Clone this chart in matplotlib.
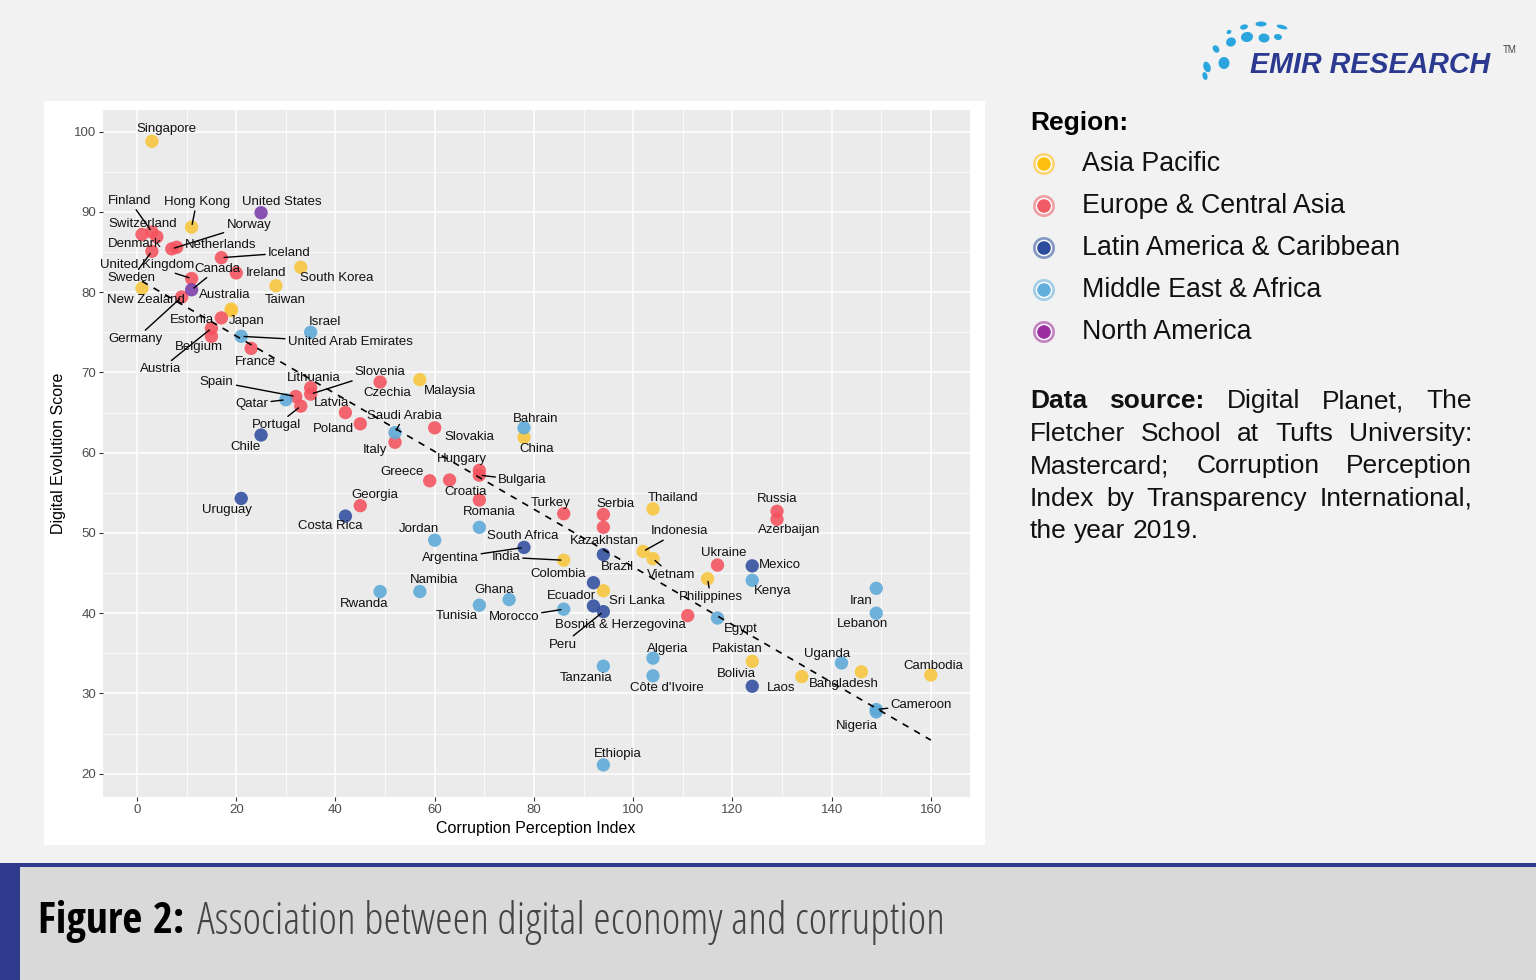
import matplotlib

matplotlib.use("Agg")
import matplotlib.pyplot as plt
from matplotlib.patches import Rectangle, Ellipse, Circle
import numpy as np

# ==========================================
# Data
# ==========================================
countries = [
    "Singapore", "Finland", "Switzerland", "Denmark", "Sweden", "Norway", "Netherlands",
    "Hong Kong", "United States", "Iceland", "Ireland", "United Kingdom", "Canada",
    "South Korea", "Taiwan", "New Zealand", "Germany", "Australia", "Japan", "Estonia",
    "Austria", "Belgium", "Israel", "United Arab Emirates", "France", "Lithuania",
    "Slovenia", "Spain", "Qatar", "Portugal", "Czechia", "Malaysia", "Latvia", "Poland",
    "Saudi Arabia", "Italy", "Slovakia", "Chile", "Bahrain", "China", "Hungary",
    "Bulgaria", "Greece", "Croatia", "Romania", "Georgia", "Costa Rica", "Uruguay",
    "Jordan", "South Africa", "Argentina", "India", "Turkey", "Serbia", "Kazakhstan",
    "Thailand", "Russia", "Azerbaijan", "Indonesia", "Vietnam", "Brazil", "Ukraine",
    "Mexico", "Kenya", "Philippines", "Colombia", "Sri Lanka", "Ecuador", "Peru",
    "Bosnia & Herzegovina", "Egypt", "Rwanda", "Namibia", "Tunisia", "Ghana", "Morocco",
    "Iran", "Lebanon", "Algeria", "Côte d'Ivoire", "Tanzania", "Pakistan", "Bolivia",
    "Laos", "Bangladesh", "Uganda", "Cambodia", "Cameroon", "Nigeria", "Ethiopia",
]
cpi_rank = [
    3, 3, 4, 1, 3, 7, 8,
    11, 25, 17, 20, 11, 11,
    33, 28, 1, 9, 19, 19, 17,
    15, 15, 35, 21, 23, 35,
    35, 32, 30, 33, 49, 57, 42, 45,
    52, 52, 60, 25, 78, 78, 69,
    69, 59, 63, 69, 45, 42, 21,
    60, 69, 78, 86, 86, 94, 94,
    104, 129, 129, 102, 104, 94, 117,
    124, 124, 115, 92, 94, 92, 94,
    111, 117, 49, 57, 69, 75, 86,
    149, 149, 104, 104, 94, 124, 124,
    134, 146, 142, 160, 149, 149, 94,
]
digital_score = [
    98.8, 87.5, 86.9, 87.2, 85.1, 85.4, 85.6,
    88.1, 89.9, 84.3, 82.4, 81.7, 80.3,
    83.1, 80.8, 80.5, 79.4, 77.9, 77.7, 76.8,
    75.5, 74.5, 75.0, 74.5, 73.0, 68.1,
    67.3, 67.0, 66.6, 65.8, 68.8, 69.1, 65.0, 63.6,
    62.5, 61.3, 63.1, 62.2, 63.1, 61.9, 57.8,
    57.2, 56.5, 56.6, 54.1, 53.4, 52.1, 54.3,
    49.1, 50.7, 48.2, 46.6, 52.4, 52.3, 50.7,
    53.0, 52.7, 51.7, 47.7, 46.8, 47.3, 46.0,
    45.9, 44.1, 44.3, 43.8, 42.8, 40.9, 40.2,
    39.7, 39.4, 42.7, 42.7, 41.0, 41.7, 40.5,
    43.1, 40.0, 34.4, 32.2, 33.4, 34.0, 30.9,
    32.1, 32.7, 33.8, 32.3, 28.0, 27.7, 21.1,
]
regions = [
    "AP", "EU", "EU", "EU", "EU", "EU", "EU",
    "AP", "NA", "EU", "EU", "EU", "NA",
    "AP", "AP", "AP", "EU", "AP", "AP", "EU",
    "EU", "EU", "ME", "ME", "EU", "EU",
    "EU", "EU", "ME", "EU", "EU", "AP", "EU", "EU",
    "ME", "EU", "EU", "LA", "ME", "AP", "EU",
    "EU", "EU", "EU", "EU", "EU", "LA", "LA",
    "ME", "ME", "LA", "AP", "EU", "EU", "EU",
    "AP", "EU", "EU", "AP", "AP", "LA", "EU",
    "LA", "ME", "AP", "LA", "AP", "LA", "LA",
    "EU", "ME", "ME", "ME", "ME", "ME", "ME",
    "ME", "ME", "ME", "ME", "ME", "AP", "LA",
    "AP", "AP", "ME", "AP", "ME", "ME", "ME",
]

region_keys = ["AP", "EU", "LA", "ME", "NA"]
region_names = ["Asia Pacific", "Europe & Central Asia", "Latin America & Caribbean",
                "Middle East & Africa", "North America"]

# ==========================================
# Styling
# ==========================================
POINT_COLORS = {"AP": "#F8C63C", "EU": "#F5525D", "LA": "#2F4E9E",
                "ME": "#5CA9D8", "NA": "#7A3CA8"}
LEGEND_COLORS = {"AP": "#FDC010", "EU": "#EF5B66", "LA": "#2C4C9E",
                 "ME": "#62AEDC", "NA": "#9A2E9E"}

# label offset from its point in pixels (right, up)
label_offsets = {
    "Singapore": (15, 12), "Finland": (-22, 31), "Switzerland": (-14, 13),
    "Denmark": (-7, -10), "Sweden": (-20, -27), "Norway": (77, 24),
    "Netherlands": (44, 2), "Hong Kong": (5, 25), "United States": (21, 11),
    "Iceland": (68, 5), "Ireland": (30, 0), "United Kingdom": (-44, 14),
    "Canada": (26, 21), "South Korea": (36, -11), "Taiwan": (9, -14),
    "New Zealand": (4, -12), "Germany": (-46, -42), "Australia": (-7, 14),
    "Japan": (15, -10), "Estonia": (-29, -2), "Austria": (-51, -41),
    "Belgium": (-13, -11), "Israel": (14, 10), "United Arab Emirates": (109, -6),
    "France": (4, -14), "Lithuania": (3, 10), "Slovenia": (69, 22),
    "Spain": (-79, 15), "Qatar": (-34, -4), "Portugal": (-24, -19),
    "Czechia": (7, -11), "Malaysia": (30, -11), "Latvia": (-14, 10),
    "Poland": (-27, -5), "Saudi Arabia": (9, 17), "Italy": (-20, -8),
    "Slovakia": (35, -9), "Chile": (-16, -12), "Bahrain": (12, 9),
    "China": (13, -12), "Hungary": (-17, 11), "Bulgaria": (43, -5),
    "Greece": (-28, 9), "Croatia": (16, -12), "Romania": (10, -12),
    "Georgia": (15, 11), "Costa Rica": (-15, -10), "Uruguay": (-14, -12),
    "Jordan": (-16, 11), "South Africa": (43, -9), "Argentina": (-74, -11),
    "India": (-58, 3), "Turkey": (-13, 11), "Serbia": (12, 10),
    "Kazakhstan": (1, -14), "Thailand": (20, 11), "Russia": (0, 12),
    "Azerbaijan": (12, -11), "Indonesia": (36, 20), "Vietnam": (18, -16),
    "Brazil": (14, -12), "Ukraine": (6, 12), "Mexico": (28, 1),
    "Kenya": (20, -11), "Philippines": (3, -18), "Colombia": (-35, 9),
    "Sri Lanka": (33, -10), "Ecuador": (-22, 10), "Peru": (-41, -33),
    "Bosnia & Herzegovina": (-67, -9), "Egypt": (23, -11), "Rwanda": (-16, -12),
    "Namibia": (14, 12), "Tunisia": (-23, -11), "Ghana": (-15, 10),
    "Morocco": (-50, -8), "Iran": (-15, -13), "Lebanon": (-14, -11),
    "Algeria": (15, 9), "Côte d'Ivoire": (14, -12), "Tanzania": (-17, -12),
    "Pakistan": (-15, 12), "Bolivia": (-16, 12), "Laos": (-21, -11),
    "Bangladesh": (-18, -12), "Uganda": (-14, 9), "Cambodia": (3, 9),
    "Cameroon": (45, 5), "Nigeria": (-19, -14), "Ethiopia": (14, 11),
}
with_leader = {
    "Finland", "Hong Kong", "Norway", "Iceland", "United Kingdom", "Canada", "Sweden",
    "Germany", "United Arab Emirates", "Austria", "Spain", "Slovenia", "Qatar",
    "Saudi Arabia", "Portugal", "Bulgaria", "Indonesia", "Argentina", "India",
    "Morocco", "Peru", "Cameroon", "Vietnam", "Philippines",
}

plt.rcParams["font.family"] = ["Liberation Sans", "DejaVu Sans"]

W, H = 1536, 980
fig = plt.figure(figsize=(W / 100, H / 100), dpi=100, facecolor="#F2F2F2")
renderer = fig.canvas.get_renderer()

# pixel-coordinate canvas for panels, legend and banner
deco = fig.add_axes([0, 0, 1, 1], zorder=0)
deco.set_xlim(0, W)
deco.set_ylim(H, 0)
deco.axis("off")
deco.add_patch(Rectangle((44, 101), 941, 744, facecolor="white", edgecolor="none"))

# ==================== Scatter panel ====================
ax = fig.add_axes([103 / W, 1 - 797 / H, 867 / W, 687 / H], zorder=1)
ax.set_facecolor("#EBEBEB")
ax.set_xlim(-6.86, 167.9)
ax.set_ylim(17.1, 102.7)
ax.set_xticks(np.arange(0, 161, 20))
ax.set_xticks(np.arange(10, 160, 20), minor=True)
ax.set_yticks(np.arange(20, 101, 10))
ax.set_yticks(np.arange(25, 100, 10), minor=True)
ax.grid(which="major", color="white", lw=1.1)
ax.grid(which="minor", color="white", lw=0.55)
ax.set_axisbelow(True)
for s in ax.spines.values():
    s.set_visible(False)
ax.tick_params(which="major", length=3, width=0.8, color="#333333",
               labelsize=9.5, labelcolor="#4D4D4D", pad=2)
ax.tick_params(which="minor", length=0)

x = np.array(cpi_rank, dtype=float)
y = np.array(digital_score, dtype=float)
reg = np.array(regions)

for key in region_keys:
    m = reg == key
    ax.scatter(x[m], y[m], s=92, color=POINT_COLORS[key], alpha=0.88,
               edgecolors="none", zorder=3)

# linear trend
coef = np.polyfit(x, y, 1)
xs = np.array([x.min(), x.max()])
ax.plot(xs, np.polyval(coef, xs), color="black", lw=1.2, ls=(0, (4, 4)), zorder=4)

for name, xi, yi in zip(countries, x, y):
    dx, dy = label_offsets[name]
    arrow = None
    if name in with_leader:
        arrow = dict(arrowstyle="-", color="black", lw=1.0, shrinkA=0, shrinkB=2)
    ax.annotate(name, xy=(xi, yi), xytext=(dx, dy), textcoords="offset pixels",
                ha="center", va="center", fontsize=9.5, color="#111111",
                arrowprops=arrow, zorder=5)

fig.text(536 / W, 1 - 828 / H, "Corruption Perception Index", ha="center",
         va="center", fontsize=11.5, color="black")
fig.text(58 / W, 1 - 453 / H, "Digital Evolution Score", ha="center",
         va="center", rotation=90, fontsize=11.5, color="black")

# ==================== Legend (right) ====================
deco.text(1030, 123, "Region:", fontsize=19, fontweight="bold", va="center", ha="left")
for i, (key, nm) in enumerate(zip(region_keys, region_names)):
    cy = 164 + i * 42
    c = LEGEND_COLORS[key]
    deco.add_patch(Circle((1044, cy), 11, facecolor=c, alpha=0.55, edgecolor="none"))
    deco.add_patch(Circle((1044, cy), 8.3, facecolor="white", edgecolor="none"))
    deco.add_patch(Circle((1044, cy), 6.8, facecolor=c, edgecolor="none"))
    deco.text(1082, cy, nm, fontsize=19.3, va="center", ha="left", color="#111111")

# justified data source paragraph
source_lines = [
    [("Data", "bold"), ("source:", "bold"), ("Digital", "normal"), ("Planet,", "normal"), ("The", "normal")],
    [(w, "normal") for w in "Fletcher School at Tufts University:".split()],
    [(w, "normal") for w in "Mastercard; Corruption Perception".split()],
    [(w, "normal") for w in "Index by Transparency International,".split()],
    [(w, "normal") for w in "the year 2019.".split()],
]
x0, x1 = 1030, 1472
for li, words in enumerate(source_lines):
    cy = 401 + li * 32.5
    texts = [deco.text(0, cy, w, fontsize=19, fontweight=wt, va="center", ha="left",
                       color="#111111") for w, wt in words]
    widths = [t.get_window_extent(renderer).width for t in texts]
    if li < len(source_lines) - 1:
        gap = (x1 - x0 - sum(widths)) / (len(words) - 1)
    else:
        gap = renderer.points_to_pixels(19) * 0.28
    pos = x0
    for t, wd in zip(texts, widths):
        t.set_x(pos)
        pos += wd + gap

# ==================== Logo ====================
logo_blue = "#2AA5DE"
for (cx, cy, w, h, ang) in [
    (1207, 67, 7, 11, -20), (1205, 76, 5, 8, -15), (1224, 63, 11, 12, 0),
    (1216, 49, 6, 8, -35), (1231, 42, 10, 9, -25), (1247, 37, 12, 10, -10),
    (1264, 38, 11, 9, 5), (1229, 32, 5, 4, -30), (1244, 27, 8, 5, -15),
    (1261, 24, 11, 5, 0), (1282, 27, 11, 4, 15), (1278, 37, 8, 6, 10),
]:
    deco.add_patch(Ellipse((cx, cy), w, h, angle=ang, facecolor=logo_blue, edgecolor="none"))
deco.text(1250, 65, "EMIR RESEARCH", fontsize=20.6, fontweight="bold", style="italic",
          color="#2B3990", va="center", ha="left")
deco.text(1503, 50, "TM", fontsize=7, color="#444444", va="center", ha="left")

# ==================== Caption banner ====================
deco.add_patch(Rectangle((0, 866), W, H - 866, facecolor="#D9D9D9", edgecolor="none"))
deco.add_patch(Rectangle((0, 863), W, 4, facecolor="#2E3A8C", edgecolor="none"))
deco.add_patch(Rectangle((0, 863), 20, H - 863, facecolor="#2E3A8C", edgecolor="none"))
t1 = deco.text(38, 921, "Figure 2:", fontsize=26, fontweight="bold",
               family=["Open Sans Condensed", "Open Sans", "DejaVu Sans"],
               color="black", va="center", ha="left")
t2 = deco.text(0, 922, "Association between digital economy and corruption",
               fontsize=26, fontweight="light", fontstretch="condensed",
               family=["Open Sans Condensed Light", "Open Sans", "DejaVu Sans"],
               color="#444444", va="center", ha="left")
# fit both caption parts to the reference extents
w1 = t1.get_window_extent(renderer).width
t1.set_fontsize(26 * (185 - 38) / w1)
w2 = t2.get_window_extent(renderer).width
t2.set_fontsize(min(26 * (970 - 197) / w2, 32))
t2.set_x(197)

fig.savefig("out.png", dpi=100, facecolor=fig.get_facecolor())
